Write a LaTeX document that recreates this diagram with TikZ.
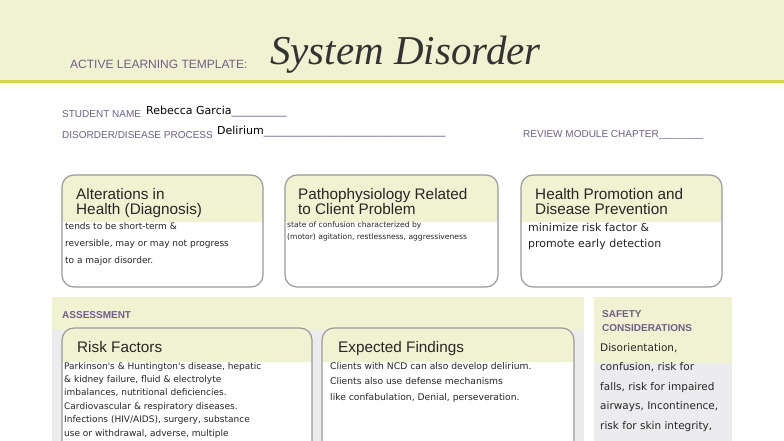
\documentclass[tikz,border=0pt]{standalone}
\usepackage{fontspec}
\setmainfont{Liberation Sans}
\newfontfamily\titlefont{Liberation Serif}
\newfontfamily\hand{DejaVu Sans}
\definecolor{cream}{HTML}{F1F2D2}
\definecolor{lime}{HTML}{D3D84E}
\definecolor{purp}{HTML}{6E5F87}
\definecolor{panelgray}{HTML}{ECECEE}
\definecolor{edge}{HTML}{9A9A9A}
\begin{document}
\begin{tikzpicture}[x=1pt,y=-1pt,
  lbl/.style={anchor=west,inner sep=0pt,font=\fontsize{10}{11}\selectfont,text=purp},
  hd/.style={anchor=north west,inner sep=0pt,align=left,font=\fontsize{15.3}{15.5}\selectfont,text=black!85},
  hw/.style={anchor=north west,inner sep=0pt,align=left,font=\hand\fontsize{9.5}{13}\selectfont,text=black!85},
  sec/.style={anchor=west,inner sep=0pt,font=\bfseries\fontsize{10}{14}\selectfont,text=purp,align=left}]
\useasboundingbox (0,0) rectangle (784,441);
\fill[white] (0,0) rectangle (784,441);
% header band
\fill[cream] (0,0) rectangle (784,80);
\fill[lime] (0,80) rectangle (784,83);
\node[lbl,font=\fontsize{12}{13}\selectfont] (tl) at (70,64) {ACTIVE LEARNING TEMPLATE:};
\node[anchor=west,inner sep=0pt,font=\titlefont\itshape\fontsize{41}{42}\selectfont,text=black!80] (tt) at (270,55) {System Disorder};
% form lines
\node[lbl] (sn) at (62,114) {STUDENT NAME};
\node[anchor=west,inner sep=0pt,font=\hand\fontsize{11}{12}\selectfont] (snv) at (146,112) {Rebecca Garcia\textcolor{purp}{\_\_\_\_\_\_\_\_\_\_}};
\node[lbl] (dp) at (62,135) {DISORDER/DISEASE PROCESS};
\node[anchor=west,inner sep=0pt,font=\hand\fontsize{11}{12}\selectfont] (dpv) at (217,132) {Delirium\textcolor{purp}{\_\_\_\_\_\_\_\_\_\_\_\_\_\_\_\_\_\_\_\_\_\_\_\_\_\_\_\_\_\_\_\_\_}};
\node[lbl] (rm) at (523,135) {REVIEW MODULE CHAPTER\_\_\_\_\_\_\_\_};
% top boxes
\foreach \xa/\xb/\n in {62/263/a,285/498/b,521/722/c}{
  \begin{scope}
    \clip[rounded corners=12pt] (\xa,175) rectangle (\xb,287);
    \fill[cream] (\xa,175) rectangle (\xb,222);
    \fill[white] (\xa,222) rectangle (\xb,287);
  \end{scope}
  \draw[edge,line width=1.2pt,rounded corners=12pt] (\xa,175) rectangle (\xb,287);
}
\node[hd] (h1) at (76,188) {Alterations in\\Health (Diagnosis)};
\node[hd] (h2) at (298,188) {Pathophysiology Related\\to Client Problem};
\node[hd] (h3) at (535,188) {Health Promotion and\\Disease Prevention};
\node[hw,font=\hand\fontsize{9}{17}\selectfont] (t1) at (65,222) {tends to be short-term \&\\reversible, may or may not progress\\to a major disorder.};
\node[hw,font=\hand\fontsize{7.6}{12}\selectfont] (t2) at (287,222) {state of confusion characterized by\\(motor) agitation, restlessness, aggressiveness};
\node[hw,font=\hand\fontsize{11}{16}\selectfont] (t3) at (528,223) {minimize risk factor \&\\promote early detection};
% assessment panel
\fill[panelgray] (52,297) rectangle (584,441);
\fill[cream] (52,297) rectangle (584,330);
\node[sec] (as) at (62,315) {ASSESSMENT};
\fill[panelgray] (594,297) rectangle (732,441);
\fill[cream] (594,297) rectangle (732,363);
\node[sec,anchor=north west] (sf) at (602,310) {SAFETY\\CONSIDERATIONS};
\foreach \xa/\xb in {62/312,322/574}{
  \begin{scope}
    \clip[rounded corners=12pt] (\xa,328) rectangle (\xb,470);
    \fill[cream] (\xa,328) rectangle (\xb,362);
    \fill[white] (\xa,362) rectangle (\xb,470);
  \end{scope}
  \draw[edge,line width=1.2pt,rounded corners=12pt] (\xa,470) -- (\xa,328) -- (\xb,328) -- (\xb,470);
}
\node[hd] (h4) at (77,341) {Risk Factors};
\node[hd] (h5) at (338,341) {Expected Findings};
\node[hw,font=\hand\fontsize{9}{13.4}\selectfont] (t4) at (64,362) {Parkinson's \& Huntington's disease, hepatic\\\& kidney failure, fluid \& electrolyte\\imbalances, nutritional deficiencies.\\Cardiovascular \& respiratory diseases.\\Infections (HIV/AIDS), surgery, substance\\use or withdrawal, adverse, multiple};
\node[hw,font=\hand\fontsize{9.2}{15.8}\selectfont] (t5) at (330,362) {Clients with NCD can also develop delirium.\\Clients also use defense mechanisms\\like confabulation, Denial, perseveration.};
\node[hw,font=\hand\fontsize{10.5}{19.5}\selectfont] (t6) at (600,343) {Disorientation,\\confusion, risk for\\falls, risk for impaired\\airways, Incontinence,\\risk for skin integrity,};
\end{tikzpicture}
\end{document}
